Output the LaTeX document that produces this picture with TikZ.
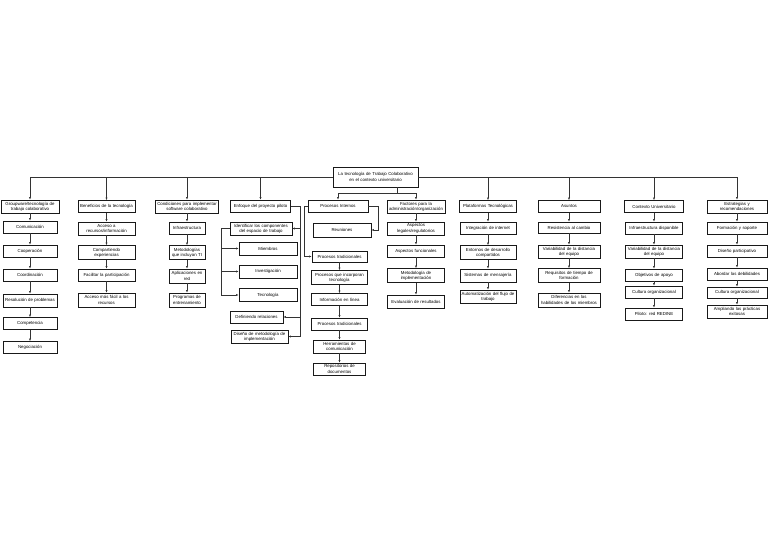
\documentclass[tikz,border=0pt]{standalone}
\usepackage{fontspec}
\setmainfont{Liberation Sans}
\usetikzlibrary{arrows.meta}
\newcommand{\boxfont}{\fontsize{4.35}{5.2}\selectfont}

\begin{document}
\begin{tikzpicture}[x=1pt,y=-1pt,
  box/.style={draw=black!90,fill=white,line width=0.7pt,align=center,
    font=\boxfont,inner sep=1pt,minimum height=12pt},
  arr/.style={-{Latex[length=2.6pt,width=2.2pt]},black!80,line width=0.5pt}]

  \useasboundingbox (0,0) rectangle (768,543);

  % ---- Root -------------------------------------------------
  \node[box,text width=83,minimum height=20] (root) at (375.5,177)
    {La tecnología de Trabajo Colaborativo\\en el contexto universitario};

  % ---- Column headers ---------------------------------------
  \node[box,text width=56,minimum height=13] (h1)  at (30,206.5)
    {Groupware/tecnología de\\trabajo colaborativo};
  \node[box,text width=55,minimum height=12] (h2)  at (106.5,206.5) {Beneficios de la tecnología};
  \node[box,text width=61,minimum height=13] (h3)  at (187,206.5)
    {Condiciones para implementar\\software colaborativo};
  \node[box,text width=58,minimum height=12] (h4)  at (260.5,206) {Enfoque del proyecto piloto};
  \node[box,text width=58,minimum height=12] (h5)  at (338,206) {Procesos Internos};
  \node[box,text width=56,minimum height=13] (h6)  at (416,206.5)
    {Factores para la\\administración/organización};
  \node[box,text width=55,minimum height=12] (h7)  at (488,206.5) {Plataformas Tecnológicas};
  \node[box,text width=60,minimum height=12] (h8)  at (569,206.5) {Asuntos};
  \node[box,text width=57,minimum height=12] (h9)  at (654,206.5) {Contexto Universitario};
  \node[box,text width=58,minimum height=13] (h10) at (737,206.5)
    {Estrategias y\\recomendaciones};

  % ---- Groupware column -------------------------------------
  \node[box,text width=52] (c1a) at (30,227)   {Comunicación};
  \node[box,text width=52] (c1b) at (30,251)   {Cooperación};
  \node[box,text width=52] (c1c) at (30,275)   {Coordinación};
  \node[box,text width=52,minimum height=13] (c1d) at (30,300.5) {Resolución de problemas};
  \node[box,text width=52] (c1e) at (30,323.5) {Competencia};
  \node[box,text width=52] (c1f) at (30,347.5) {Negociación};

  % ---- Beneficios column ------------------------------------
  \node[box,text width=55,minimum height=13] (c2a) at (106.5,228.5) {Acceso a\\recursos/información};
  \node[box,text width=55,minimum height=14] (c2b) at (106.5,252.5) {Compartiendo\\experiencias};
  \node[box,text width=55] (c2c) at (106.5,275) {Facilitar la participación};
  \node[box,text width=55,minimum height=14] (c2d) at (106.5,300) {Acceso más fácil a los\\recursos};

  % ---- Condiciones column -----------------------------------
  \node[box,text width=34] (c3a) at (187,228) {Infraestructura};
  \node[box,text width=34,minimum height=14] (c3b) at (187,252.5) {Metodologías\\que incluyan TI};
  \node[box,text width=34,minimum height=14] (c3c) at (187,276) {Aplicaciones en\\red};
  \node[box,text width=34,minimum height=14] (c3d) at (187,300) {Programas de\\entrenamiento};

  % ---- Enfoque column ---------------------------------------
  \node[box,text width=60,minimum height=13] (c4a) at (261,228.5)
    {Identificar los componentes\\del espacio de trabajo};
  \node[box,text width=56,minimum height=13] (c4b) at (268,248.5) {Miembros};
  \node[box,text width=56,minimum height=13] (c4c) at (268,271.5) {Investigación};
  \node[box,text width=56,minimum height=13] (c4d) at (268,295) {Tecnología};
  \node[box,text width=51] (c4e) at (256.5,317) {Definiendo relaciones};
  \node[box,text width=55,minimum height=13] (c4f) at (259.5,336.5)
    {Diseño de metodología de\\implementación};

  % ---- Procesos column --------------------------------------
  \node[box,text width=56,minimum height=14] (c5a) at (342,230) {Reuniones};
  \node[box,text width=53,minimum height=11] (c5b) at (339.5,256.5) {Procesos tradicionales};
  \node[box,text width=54,minimum height=14] (c5c) at (339.5,277.5) {Procesos que incorporan\\tecnología};
  \node[box,text width=54] (c5d) at (339.5,299.5) {Información en línea};
  \node[box,text width=54] (c5e) at (339.5,324) {Procesos tradicionales};
  \node[box,text width=50,minimum height=13] (c5f) at (339.5,346.5) {Herramientas de\\comunicación};
  \node[box,text width=50] (c5g) at (339.5,369) {Repositorios de\\documentos};

  % ---- Factores column --------------------------------------
  \node[box,text width=55,minimum height=13] (c6a) at (416,228.5) {Aspectos\\legales/regulatorios};
  \node[box,text width=55] (c6b) at (416,251) {Aspectos funcionales};
  \node[box,text width=55,minimum height=14] (c6c) at (416,275.5) {Metodología de\\implementación};
  \node[box,text width=55,minimum height=13] (c6d) at (416,301.5) {Evaluación de resultados};

  % ---- Plataformas column -----------------------------------
  \node[box,text width=54] (c7a) at (488,228) {Integración de internet};
  \node[box,text width=54,minimum height=14] (c7b) at (488,252.5) {Entornos de desarrollo\\compartidos};
  \node[box,text width=54,minimum height=13] (c7c) at (488,275.5) {Sistemas de mensajería};
  \node[box,text width=54,minimum height=13] (c7d) at (488,296.5) {Automatización del flujo de\\trabajo};

  % ---- Asuntos column ---------------------------------------
  \node[box,text width=60,minimum height=11] (c8a) at (569,227.5) {Resistencia al cambio};
  \node[box,text width=60,minimum height=13] (c8b) at (569,251.5) {Variabilidad de la distancia\\del equipo};
  \node[box,text width=60,minimum height=14] (c8c) at (569,275.5) {Requisitos de tiempo de\\formación};
  \node[box,text width=60,minimum height=14] (c8d) at (569,300) {Diferencias en las\\habilidades de los miembros};

  % ---- Contexto column --------------------------------------
  \node[box,text width=55] (c9a) at (654,228) {Infraestructura disponible};
  \node[box,text width=55,minimum height=13] (c9b) at (654,251.5) {Variabilidad de la distancia\\del equipo};
  \node[box,text width=55] (c9c) at (654,275) {Objetivos de apoyo};
  \node[box,text width=55] (c9d) at (654,292) {Cultura organizacional};
  \node[box,text width=55] (c9e) at (654,314) {Piloto: red REDINE};

  % ---- Estrategias column -----------------------------------
  \node[box,text width=58] (c10a) at (737,228) {Formación y soporte};
  \node[box,text width=58] (c10b) at (737,251) {Diseño participativo};
  \node[box,text width=58] (c10c) at (737,274) {Abordar las debilidades};
  \node[box,text width=58,minimum height=11] (c10d) at (737,292.5) {Cultura organizacional};
  \node[box,text width=58,minimum height=13] (c10e) at (737,311.5) {Ampliando las prácticas\\exitosas};

  % ---- Root to headers --------------------------------------
  \draw[arr] (root.west) -| (h1.north);
  \draw[arr] (root.west) -| (h2.north);
  \draw[arr] (root.west) -| (h3.north);
  \draw[arr] (root.west) -| (h4.north);
  \draw[arr] (root.east) -| (h7.north);
  \draw[arr] (root.east) -| (h8.north);
  \draw[arr] (root.east) -| (h9.north);
  \draw[arr] (root.east) -| (h10.north);
  \draw[arr] ([xshift=21.5pt]root.south) -- ++(0,6) -| (h5.north);
  \draw[arr] ([xshift=21.5pt]root.south) -- ++(0,6) -| (h6.north);

  % ---- Column chains ----------------------------------------
  \draw[arr] (h1) -- (c1a);  \draw[arr] (c1a) -- (c1b);  \draw[arr] (c1b) -- (c1c);
  \draw[arr] (c1c) -- (c1d); \draw[arr] (c1d) -- (c1e);  \draw[arr] (c1e) -- (c1f);

  \draw[arr] (h2) -- (c2a);  \draw[arr] (c2a) -- (c2b);  \draw[arr] (c2b) -- (c2c);
  \draw[arr] (c2c) -- (c2d);

  \draw[arr] (h3) -- (c3a);  \draw[arr] (c3a) -- (c3b);  \draw[arr] (c3b) -- (c3c);
  \draw[arr] (c3c) -- (c3d);

  % Enfoque: side branches
  \draw[arr] (h4.east) -- ++(9,0) |- (c4a.east);
  \draw[arr] (h4.east) -- ++(9,0) |- (c4e.east);
  \draw[arr] (h4.east) -- ++(9,0) |- (c4f.east);
  \draw[arr] (c4a.west) -- ++(-8,0) |- (c4b.west);
  \draw[arr] (c4a.west) -- ++(-8,0) |- (c4c.west);
  \draw[arr] (c4a.west) -- ++(-8,0) |- (c4d.west);

  % Procesos: side branches, then chain
  \draw[arr] (h5.east) -- ++(10,0) |- (c5a.east);
  \draw[arr] (h5.west) -- ++(-3,0) |- (c5b.west);
  \draw[arr] (c5b) -- (c5c); \draw[arr] (c5c) -- (c5d);  \draw[arr] (c5d) -- (c5e);
  \draw[arr] (c5e) -- (c5f); \draw[arr] (c5f) -- (c5g);

  \draw[arr] (h6) -- (c6a);  \draw[arr] (c6a) -- (c6b);  \draw[arr] (c6b) -- (c6c);
  \draw[arr] (c6c) -- (c6d);

  \draw[arr] (h7) -- (c7a);  \draw[arr] (c7a) -- (c7b);  \draw[arr] (c7b) -- (c7c);
  \draw[arr] (c7c) -- (c7d);

  \draw[arr] (h8) -- (c8a);  \draw[arr] (c8a) -- (c8b);  \draw[arr] (c8b) -- (c8c);
  \draw[arr] (c8c) -- (c8d);

  \draw[arr] (h9) -- (c9a);  \draw[arr] (c9a) -- (c9b);  \draw[arr] (c9b) -- (c9c);
  \draw[arr] (c9c) -- (c9d); \draw[arr] (c9d) -- (c9e);

  \draw[arr] (h10) -- (c10a); \draw[arr] (c10a) -- (c10b); \draw[arr] (c10b) -- (c10c);
  \draw[arr] (c10c) -- (c10d); \draw[arr] (c10d) -- (c10e);

\end{tikzpicture}
\end{document}
